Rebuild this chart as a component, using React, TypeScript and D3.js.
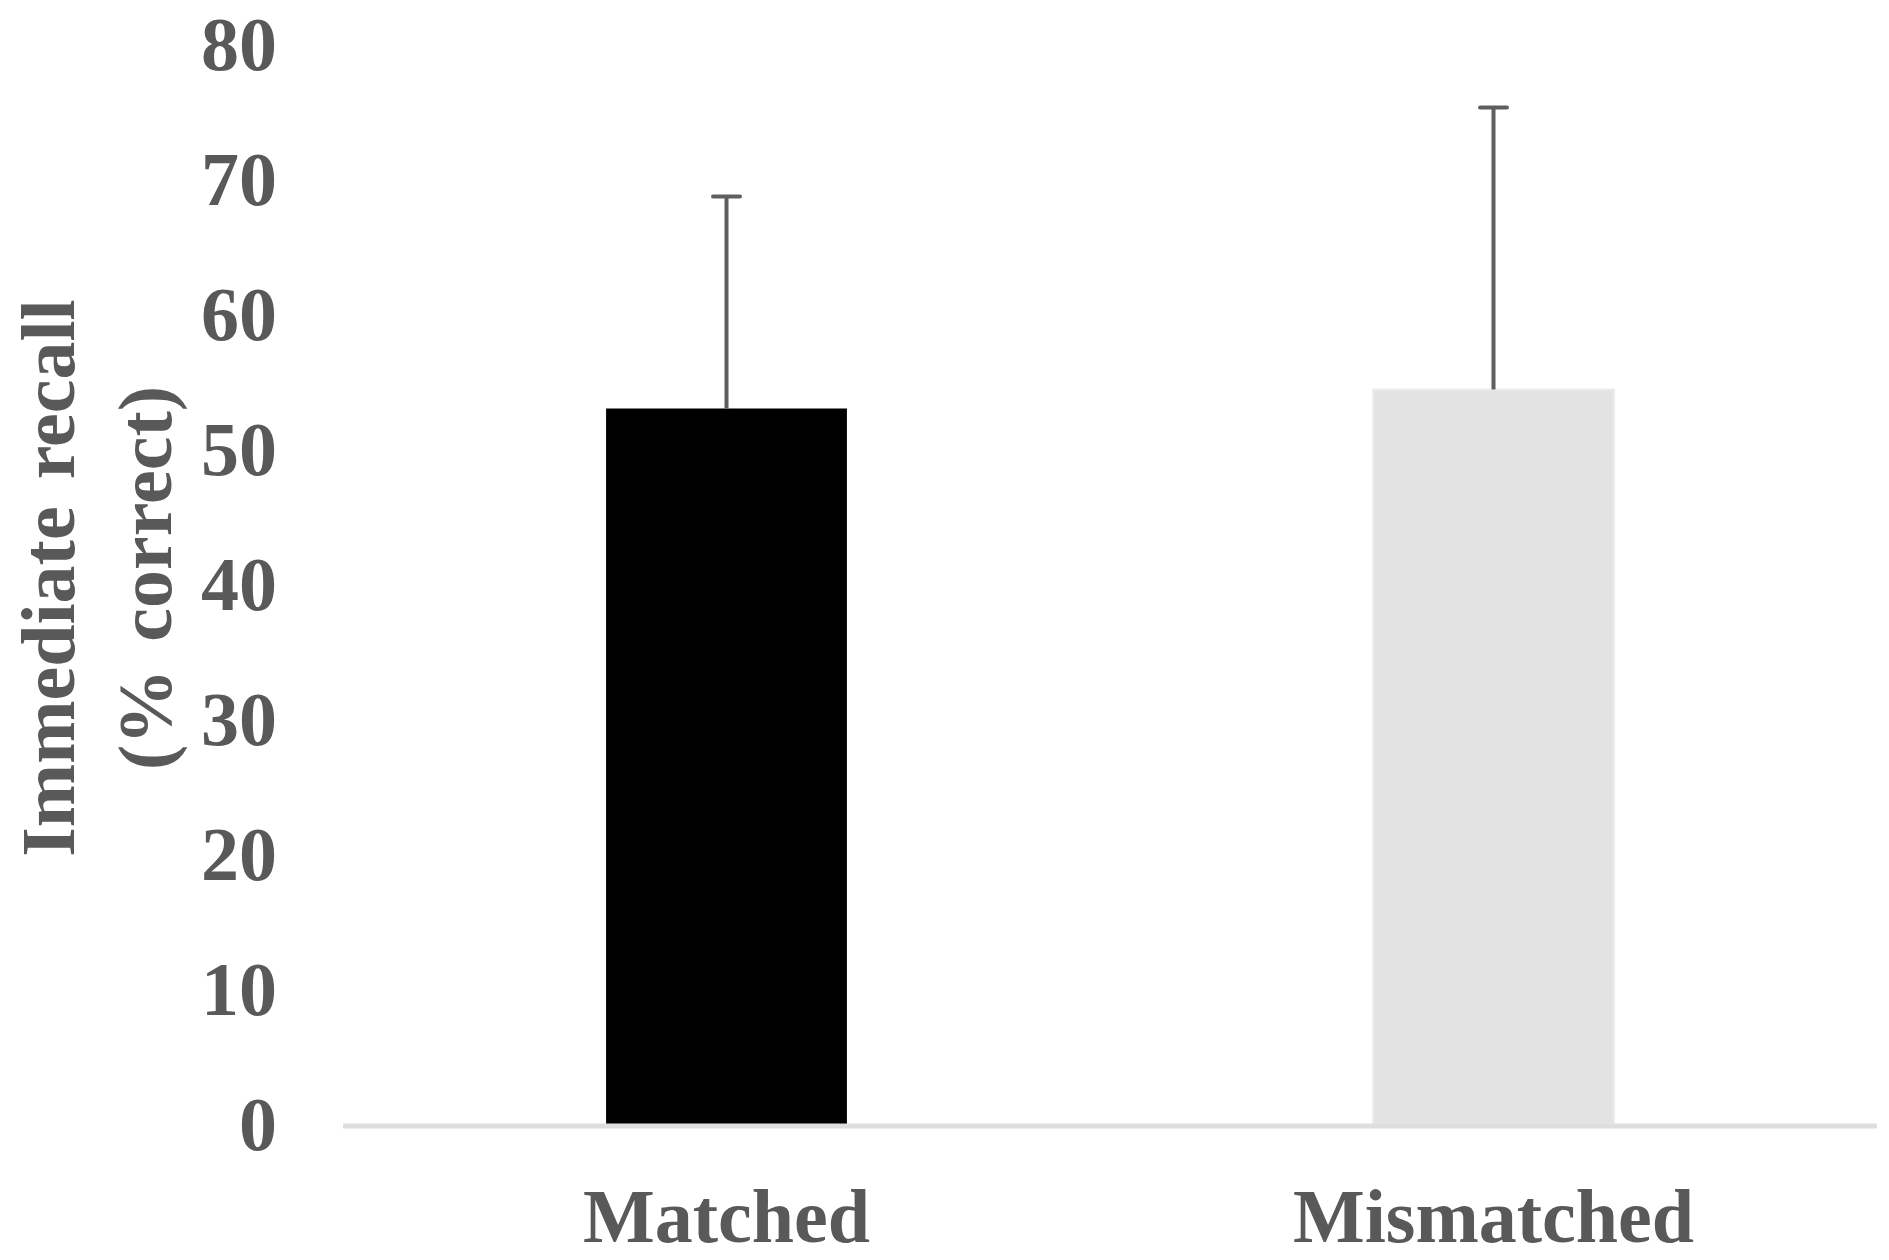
import React from "react";
import * as d3 from "d3";

const categories = ["Matched", "Mismatched"];
const means = [53.0, 54.4];
const errors = [15.7, 20.9];
const barColors = ["#000000", "#e3e3e3"];
const yTicks = [0, 10, 20, 30, 40, 50, 60, 70, 80];
const yTitleLines = ["Immediate recall", "(% correct)"];

const W = 1889;
const H = 1260;
const FONT = "'Liberation Serif', 'Times New Roman', serif";
const TEXT = "#595959";

const App: React.FC = () => {
  const x = d3.scaleBand<string>().domain(categories).range([343, 1877]).padding(0);
  const y = d3.scaleLinear().domain([0, 80]).range([1124, 44]);
  const barW = x.bandwidth() * 0.314;
  const capW = 27;

  return (
    <svg
      width={W}
      height={H}
      style={{ position: "absolute", left: 0, top: 0, background: "#fff" }}
      fontFamily={FONT}
      fontWeight="bold"
    >
      {/* y tick labels */}
      {yTicks.map((t) => (
        <text
          key={t}
          x={277}
          y={y(t)}
          textAnchor="end"
          dominantBaseline="central"
          fontSize={76}
          fill={TEXT}
        >
          {t}
        </text>
      ))}

      {/* y axis title */}
      {yTitleLines.map((line, i) => (
        <text
          key={line}
          transform={`translate(${48 + i * 97}, 578) rotate(-90)`}
          textAnchor="middle"
          dominantBaseline="central"
          fontSize={76}
          wordSpacing={8}
          fill={TEXT}
        >
          {line}
        </text>
      ))}

      {/* bars */}
      {categories.map((c, i) => {
        const cx = (x(c) ?? 0) + x.bandwidth() / 2;
        return (
          <rect
            key={c}
            x={cx - barW / 2}
            y={y(means[i])}
            width={barW}
            height={y(0) - y(means[i])}
            fill={barColors[i]}
            stroke={i === 1 ? "#ececec" : "none"}
            strokeWidth={2}
          />
        );
      })}

      {/* x axis line */}
      <line x1={343} x2={1877} y1={y(0) + 2} y2={y(0) + 2} stroke="#dedede" strokeWidth={5} />

      {/* error bars (upper only) */}
      {categories.map((c, i) => {
        const cx = (x(c) ?? 0) + x.bandwidth() / 2;
        const top = y(means[i] + errors[i]);
        return (
          <g key={c} stroke="#5f5f5f" strokeWidth={4}>
            <line x1={cx} x2={cx} y1={y(means[i])} y2={top} />
            <line x1={cx - capW / 2} x2={cx + capW / 2} y1={top} y2={top} strokeLinecap="round" />
          </g>
        );
      })}

      {/* category labels */}
      {categories.map((c) => (
        <text
          key={c}
          x={(x(c) ?? 0) + x.bandwidth() / 2}
          y={1242}
          textAnchor="middle"
          fontSize={76}
          fill={TEXT}
        >
          {c}
        </text>
      ))}
    </svg>
  );
};

export default App;
